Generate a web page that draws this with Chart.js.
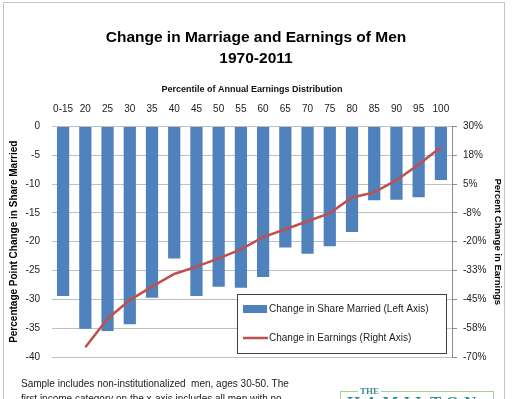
<!DOCTYPE html>
<html>
<head>
<meta charset="utf-8">
<script src="https://cdn.jsdelivr.net/npm/chart.js@4.4.0/dist/chart.umd.min.js"></script>
<style>
  html, body { margin: 0; padding: 0; background: #fff; overflow: hidden; }
  #wrap { position: relative; width: 512px; height: 399px; overflow: hidden; }
  #frame { position: absolute; left: 3px; top: 2px; width: 500px; height: 430px; border: 1px solid #c4c4c4; }
  canvas { position: absolute; left: 0; top: 0; }
  #note { position: absolute; left: 21px; top: 376px; width: 300px; font: 10px "Liberation Sans", Arial, sans-serif; line-height: 15px; color: #222; white-space: nowrap; }
  #logo { position: absolute; left: 340px; top: 391px; width: 152px; height: 30px; border: 1px solid #a9d18e; }
  #logo .the { position: absolute; left: 17px; top: -6px; background: #fff; padding: 0 2px; font: bold 9px "Liberation Serif", serif; color: #3b8d8d; line-height: 10px; }
  #logo .big { position: absolute; left: 6px; top: 2px; font: bold 17px "Liberation Serif", serif; color: #3b8d8d; letter-spacing: 5px; line-height: 17px; }
</style>
</head>
<body>
<div id="wrap">
  <div id="frame"></div>
  <canvas id="chart" width="512" height="399"></canvas>
  <div id="note">Sample includes non-institutionalized&nbsp; men, ages 30-50. The<br>first income category on the x-axis includes all men with no</div>
  <div id="logo"><span class="big">HAMILTON</span><span class="the">THE</span></div>
</div>
<script>
const categories = ['0-15', '20', '25', '30', '35', '40', '45', '50', '55', '60', '65', '70', '75', '80', '85', '90', '95', '100'];
const shareMarried = [-29.4, -35.1, -35.5, -34.3, -29.7, -22.9, -29.4, -27.8, -28.0, -26.1, -21.0, -22.1, -20.8, -18.3, -12.8, -12.7, -12.3, -9.3];
const earningsChange = [null, -65.8, -53.4, -45.3, -39.5, -34.0, -30.8, -27.2, -23.3, -18.0, -14.6, -11.1, -7.6, -0.8, 1.4, 6.7, 13.5, 21.0];
const rightTickLabels = ['30%', '18%', '5%', '-8%', '-20%', '-33%', '-45%', '-58%', '-70%'];

const FONT = '"Liberation Sans", Arial, sans-serif';
const BLUE = '#4f81bd';
const RED = '#c0504d';

// legend box sitting inside the plot, like the Excel one
const boxLegend = {
    id: 'boxLegend',
    afterDraw(chart) {
        const ctx = chart.ctx;
        const x = 237, y = 294, w = 209, h = 59;
        ctx.save();
        ctx.fillStyle = '#fff';
        ctx.fillRect(x, y, w, h);
        ctx.strokeStyle = '#404040';
        ctx.lineWidth = 1;
        ctx.strokeRect(x + 0.5, y + 0.5, w, h);

        ctx.fillStyle = BLUE;
        ctx.fillRect(243, 305, 24, 8);
        ctx.strokeStyle = RED;
        ctx.lineWidth = 2.5;
        ctx.beginPath();
        ctx.moveTo(243, 338);
        ctx.lineTo(268, 338);
        ctx.stroke();

        ctx.fillStyle = '#222';
        ctx.font = '10px ' + FONT;
        ctx.textBaseline = 'middle';
        ctx.fillText(chart.data.datasets[0].label, 269, 309.5);
        ctx.fillText(chart.data.datasets[1].label, 269, 338.5);
        ctx.restore();
    }
};

const ctx = document.getElementById('chart').getContext('2d');
const chart = new Chart(ctx, {
    data: {
        labels: categories,
        datasets: [{
            type: 'bar',
            label: 'Change in Share Married (Left Axis)',
            data: shareMarried,
            backgroundColor: BLUE,
            yAxisID: 'y',
            barPercentage: 0.55,
            categoryPercentage: 1,
            order: 2
        }, {
            type: 'line',
            label: 'Change in Earnings (Right Axis)',
            data: earningsChange,
            borderColor: RED,
            borderWidth: 2.5,
            pointRadius: 0,
            tension: 0,
            yAxisID: 'y1',
            order: 1
        }]
    },
    options: {
        responsive: false,
        animation: false,
        layout: { padding: { top: 0, left: 0, right: 0, bottom: 42 } },
        plugins: {
            legend: { display: false },
            tooltip: { enabled: false },
            title: {
                display: true,
                text: ['Change in Marriage and Earnings of Men', '1970-2011'],
                color: '#000',
                font: { family: FONT, size: 15.5, weight: 'bold', lineHeight: 1.35 },
                padding: { top: 27, bottom: 0 }
            }
        },
        scales: {
            x: {
                position: 'top',
                afterFit: s => { s.height = 57.6; },
                grid: { display: false, drawTicks: false },
                border: { display: false },
                ticks: { color: '#222', font: { family: FONT, size: 10 }, padding: 11, maxRotation: 0, autoSkip: false },
                title: {
                    display: true,
                    text: 'Percentile of Annual Earnings Distribution',
                    color: '#111',
                    font: { family: FONT, size: 9, weight: 'bold', lineHeight: 1.2 },
                    padding: { top: 15.7, bottom: 0 }
                }
            },
            y: {
                position: 'left',
                min: -40,
                max: 0,
                afterFit: s => { s.width = 52; },
                ticks: { stepSize: 5, color: '#222', font: { family: FONT, size: 10 }, padding: 12 },
                grid: { color: '#bfbfbf', drawTicks: false },
                border: { display: false },
                title: {
                    display: true,
                    text: 'Percentage Point Change in Share Married',
                    color: '#000',
                    font: { family: FONT, size: 10, weight: 'bold', lineHeight: 1.2 },
                    padding: { top: 8, bottom: 0 }
                }
            },
            y1: {
                position: 'right',
                min: -70,
                max: 30,
                afterFit: s => { s.width = 60; },
                ticks: {
                    stepSize: 12.5,
                    color: '#222',
                    font: { family: FONT, size: 10 },
                    padding: 6,
                    callback: (v, i) => rightTickLabels[rightTickLabels.length - 1 - i]
                },
                grid: { drawOnChartArea: false, drawTicks: true, tickLength: 5, color: '#8c8c8c' },
                border: { display: true, color: '#8c8c8c' },
                title: {
                    display: true,
                    text: 'Percent Change in Earnings',
                    color: '#000',
                    font: { family: FONT, size: 9.5, weight: 'bold', lineHeight: 1.2 },
                    padding: { top: 8.3, bottom: 0 }
                }
            }
        }
    },
    plugins: [boxLegend]
});
</script>
</body>
</html>
